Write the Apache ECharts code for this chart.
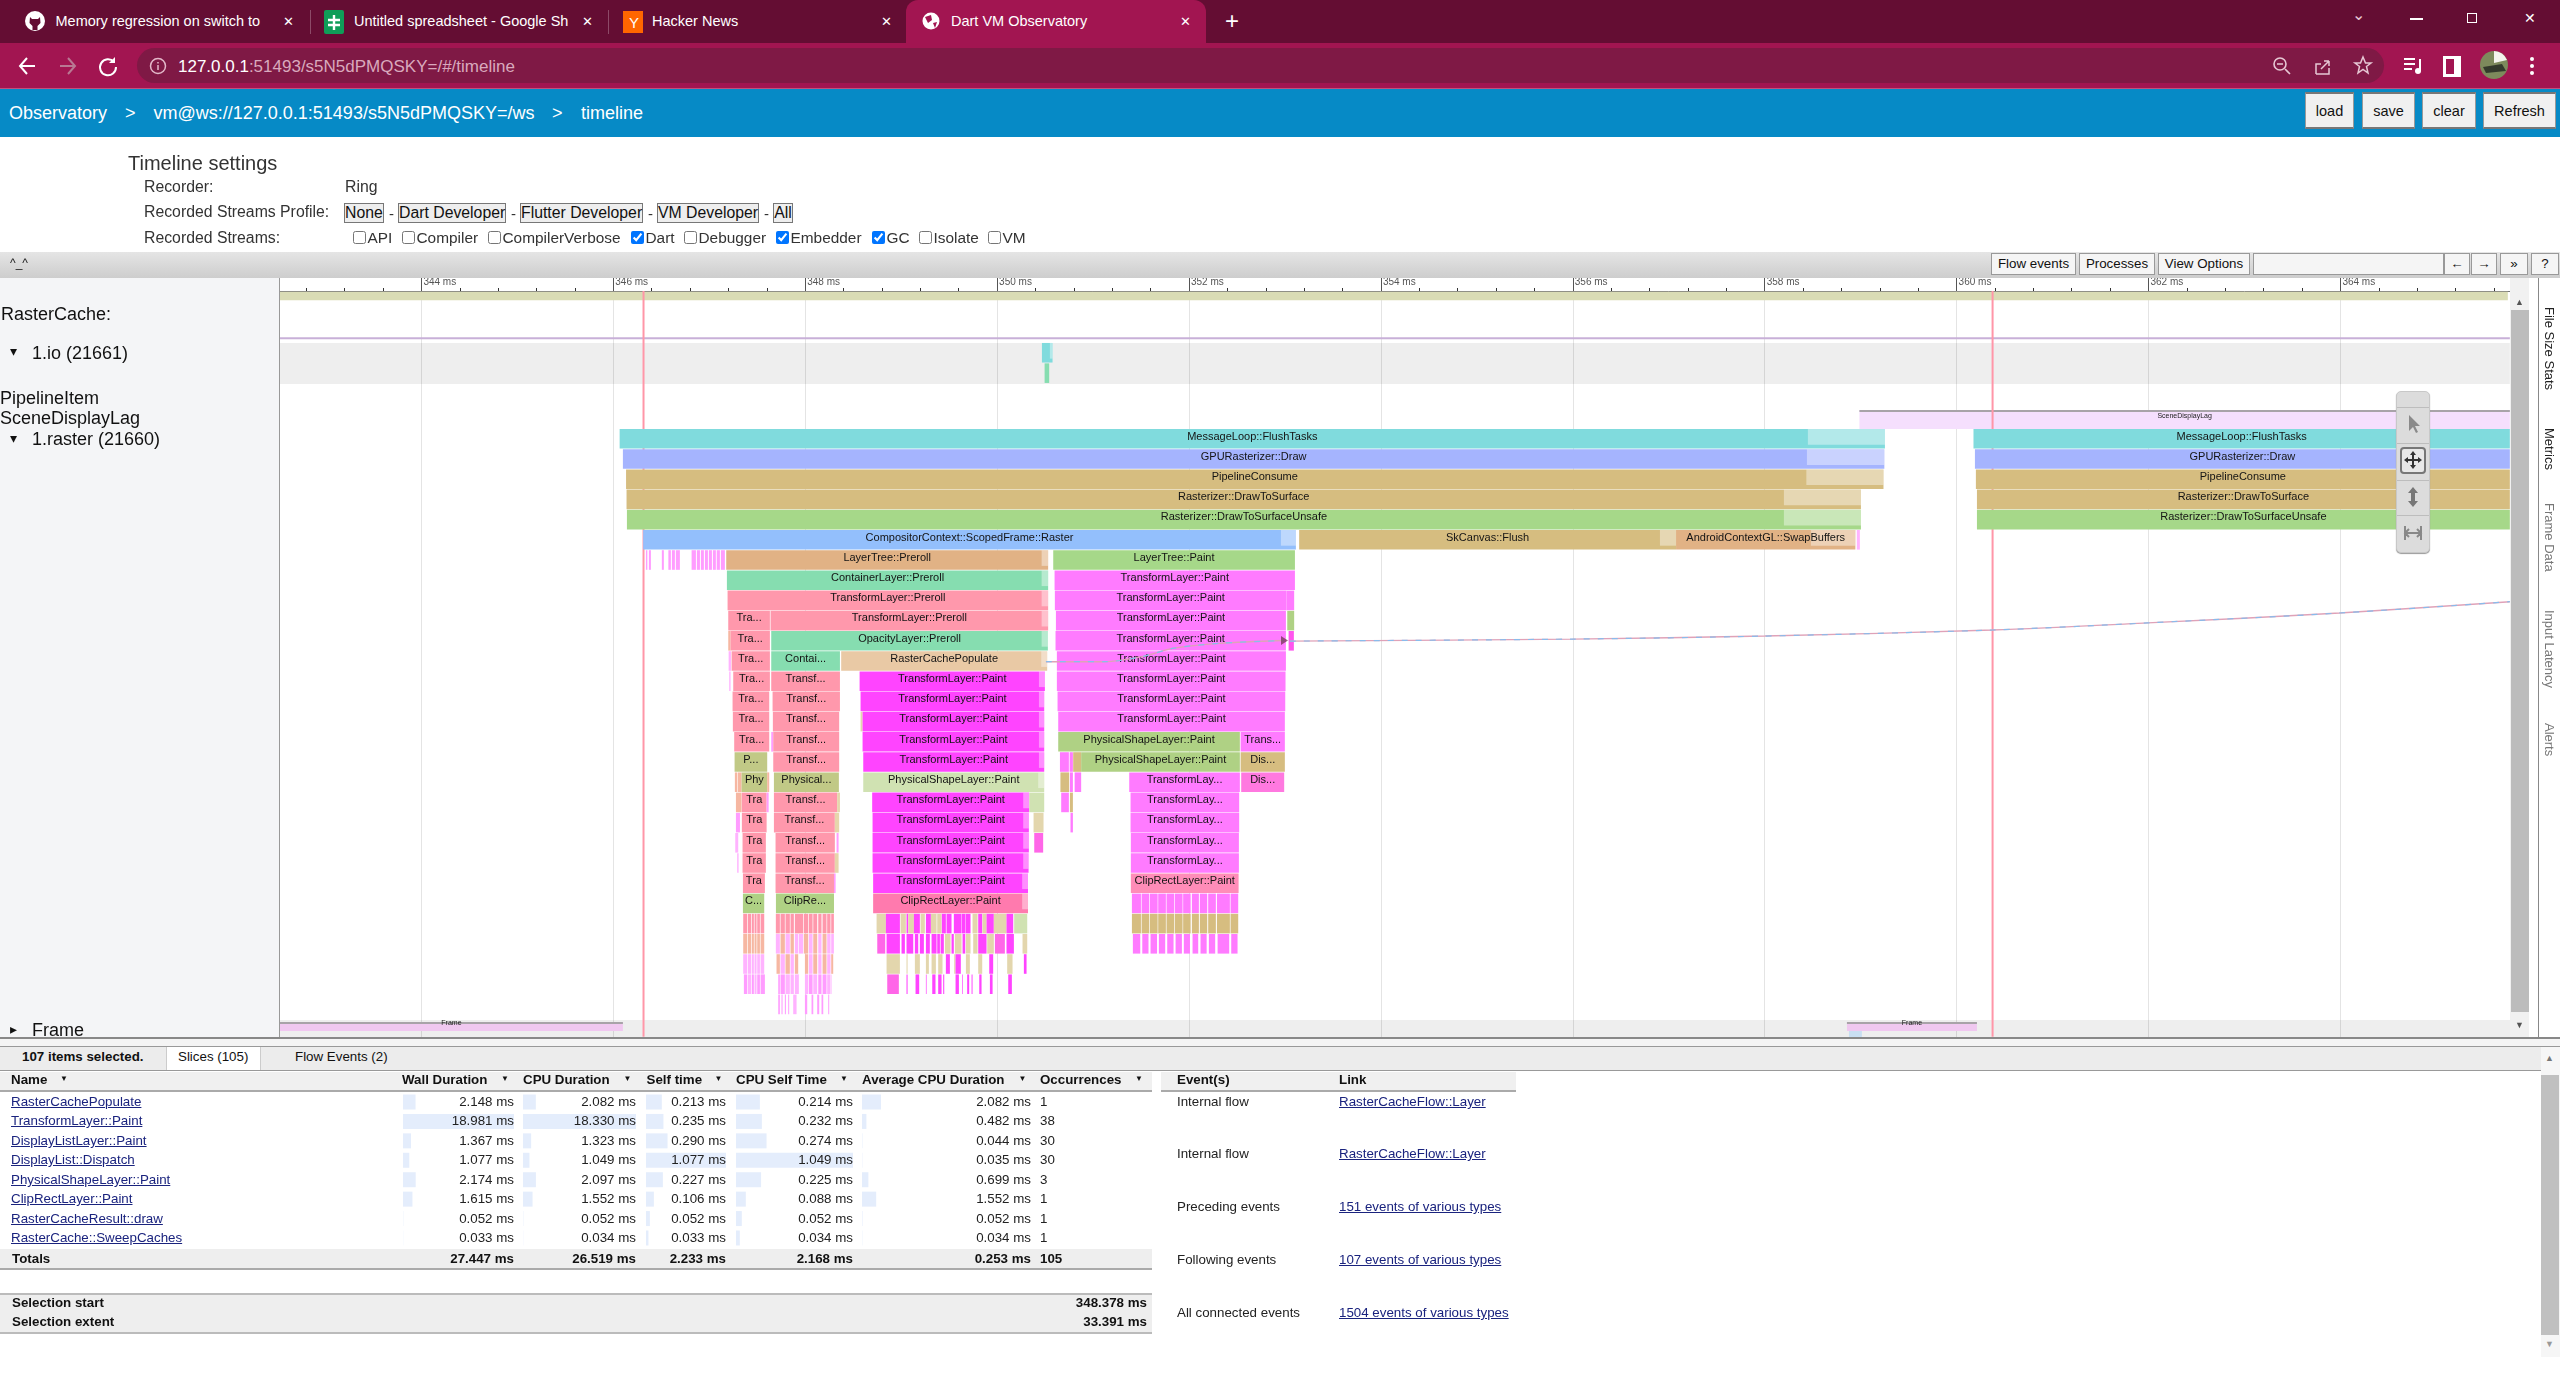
<!DOCTYPE html>
<html>
<head>
<meta charset="utf-8">
<title>Dart VM Observatory</title>
<script src="https://cdn.jsdelivr.net/npm/echarts@6/dist/echarts.min.js"></script>
<style>
  html, body { margin: 0; padding: 0; background: #fff; overflow: hidden; }
  body { width: 2560px; height: 1390px; position: relative; font-family: "Liberation Sans", Arial, sans-serif; }
  #chart { position: absolute; left: 0; top: 0; width: 2560px; height: 1390px; z-index: 1; }
  #page { position: absolute; left: 0; top: 0; width: 2560px; height: 1390px; z-index: 2; pointer-events: none; }
  .b { position: absolute; box-sizing: border-box; }
  .t { position: absolute; white-space: nowrap; line-height: 1; transform: translateY(-50%); font-size: 13.33px; color: #111; }
  svg { position: absolute; overflow: visible; }
</style>
</head>
<body>
<div id="chart"></div>
<div id="page"></div>
<script>
// slice names
const FLUSH = 'MessageLoop::FlushTasks', DRAW = 'GPURasterizer::Draw', PIPE = 'PipelineConsume',
  SURF = 'Rasterizer::DrawToSurface', UNSAFE = 'Rasterizer::DrawToSurfaceUnsafe',
  SCOPED = 'CompositorContext::ScopedFrame::Raster', SKFLUSH = 'SkCanvas::Flush',
  SWAP = 'AndroidContextGL::SwapBuffers', TREE_PRE = 'LayerTree::Preroll', TREE_PAINT = 'LayerTree::Paint',
  CONT_PRE = 'ContainerLayer::Preroll', TR = 'TransformLayer::Preroll', TP = 'TransformLayer::Paint',
  OP_PRE = 'OpacityLayer::Preroll', RCP = 'RasterCachePopulate', PS = 'PhysicalShapeLayer::Paint',
  PS_PRE = 'PhysicalShapeLayer::Preroll', CR_PRE = 'ClipRectLayer::Preroll', CR = 'ClipRectLayer::Paint',
  DLP = 'DisplayListLayer::Paint', DLD = 'DisplayList::Dispatch', DLR = 'DisplayListLayer::Raster',
  DLPRE = 'DisplayListLayer::Preroll', SLIVER = 'RasterCache::SweepCaches', ORANGE = 'DisplayList::Bounds',
  PALE = 'DisplayList::Rtree', DEEP = 'RasterCacheResult::draw';

const normalColors = {
  [FLUSH]: '#80dbdd', [DRAW]: '#a5b4fe', [PIPE]: '#d6bd80', [SURF]: '#d6bd80', [UNSAFE]: '#a6d889',
  [SCOPED]: '#93bffc', [SKFLUSH]: '#d6bd80', [SWAP]: '#e1b285', [TREE_PRE]: '#e1b285', [TREE_PAINT]: '#a6d889',
  [CONT_PRE]: '#86ddb0', [TR]: '#ff98ac', [TP]: '#ff7bff', [OP_PRE]: '#86ddb0', [RCP]: '#e9c9a5',
  [PS]: '#afd184', [PS_PRE]: '#c1c986', [CR_PRE]: '#afd184', [CR]: '#ff8cb8', [DLP]: '#ff7bff',
  [DLD]: '#d6bd80', [DLR]: '#ff79e0', [DLPRE]: '#e6d6ac', [SLIVER]: '#ff9cff', [ORANGE]: '#f6b7a2',
  [PALE]: '#ffb3ff', [DEEP]: '#ff55ee'
};
const selectedColors = { [TP]: '#ff44ff', [DLP]: '#ff44ff', [DLD]: '#e3d6ad', [PS]: '#d0e2b2', [CR]: '#ff7aae', [DEEP]: '#ff66e8' };
const selectedSpan = [348.375, 350.53];

// every slice: [start ms, end ms, name, cpu end ms, text shown when the name does not fit]
const ioDepth0 = [[350.467, 350.578, FLUSH, 350.55]];
const ioDepth1 = [[350.495, 350.543, CONT_PRE]];
const depth0 = [[346.066, 359.253, FLUSH, 358.450], [360.176, 365.766, FLUSH]];
const depth1 = [[346.100, 359.247, DRAW, 358.440], [360.191, 365.766, DRAW]];
const depth2 = [[346.133, 359.238, PIPE, 358.434], [360.201, 365.766, PIPE]];
const depth3 = [[346.138, 359.003, SURF, 358.200], [360.212, 365.766, SURF]];
const depth4 = [[346.142, 359.003, UNSAFE, 358.200], [360.212, 365.766, UNSAFE]];
const depth5 = [[346.311, 353.114, SCOPED, 352.958], [353.148, 357.076, SKFLUSH, 356.908], [357.076, 358.945, SWAP, 358.481], [358.960, 358.992, PALE]];
const depth6 = [[346.340, 346.355, SLIVER], [346.371, 346.392, SLIVER], [346.506, 346.527, SLIVER], [346.574, 346.600, SLIVER],
  [346.611, 346.642, SLIVER], [346.652, 346.694, SLIVER], [346.816, 346.861, SLIVER], [346.871, 346.903, SLIVER],
  [346.913, 346.944, SLIVER], [346.955, 346.986, SLIVER], [346.996, 347.028, SLIVER], [347.038, 347.069, SLIVER],
  [347.078, 347.111, SLIVER], [347.121, 347.163, SLIVER],
  [347.177, 350.532, TREE_PRE, 350.464], [350.585, 353.104, TREE_PAINT]];
const depth7 = [[347.184, 350.532, CONT_PRE, 350.464], [350.599, 353.104, TP]];
const depth8 = [[347.191, 350.532, TR, 350.464], [350.602, 353.017, TP], [353.017, 353.096, TP]];
const depth9 = [[347.198, 347.632, TR, null, 'Tra...'], [347.639, 350.532, TR, 350.464], [350.613, 353.010, TP], [353.024, 353.096, CR_PRE]];
const depth10 = [[347.198, 347.222, ORANGE], [347.222, 347.632, TR, null, 'Tra...'], [347.646, 350.529, OP_PRE, 350.464], [350.609, 353.010, TP], [353.038, 353.093, DEEP]];
const depth11 = [[347.202, 347.226, PALE], [347.233, 347.632, TR, null, 'Tra...'], [347.646, 348.362, CONT_PRE, null, 'Contai...'],
  [348.375, 350.522, RCP, 350.460], [350.623, 353.010, TP]];
const depth12 = [[347.208, 347.222, PALE], [347.250, 347.632, TR, null, 'Tra...'], [347.646, 348.362, TR, null, 'Transf...'],
  [348.567, 350.498, TP, 350.436], [350.623, 353.006, TP]];
const depth13 = [[347.243, 347.625, TR, null, 'Tra...'], [347.660, 348.362, TR, null, 'Transf...'], [348.577, 350.491, TP, 350.436], [350.630, 353.003, TP]];
const depth14 = [[347.246, 347.625, TR, null, 'Tra...'], [347.663, 348.354, TR, null, 'Transf...'], [348.577, 348.598, DLD],
  [348.598, 350.491, TP, 350.436], [350.637, 352.999, TP]];
const depth15 = [[347.260, 347.625, TR, null, 'Tra...'], [347.646, 347.667, SLIVER], [347.667, 348.354, TR, null, 'Transf...'],
  [348.598, 350.491, TP, 350.436], [350.637, 352.530, PS], [352.538, 352.999, TP, null, 'Trans...']];
const depth16 = [[347.264, 347.604, PS_PRE, null, 'P...'], [347.667, 348.354, TR, null, 'Transf...'], [348.605, 350.491, TP, 350.436],
  [350.655, 350.748, TP], [350.756, 350.790, TP], [350.793, 350.876, DLD], [350.876, 352.530, PS], [352.538, 352.999, DLD, null, 'Dis...']];
const depth17 = [[347.267, 347.293, ORANGE], [347.299, 347.337, ORANGE], [347.337, 347.604, PS_PRE, null, 'Phy'], [347.604, 347.625, ORANGE],
  [347.674, 348.351, PS_PRE, null, 'Physical...'], [348.605, 350.491, PS, 350.428], [350.660, 350.751, DLD], [350.759, 350.790, TP],
  [350.808, 350.876, TP], [351.377, 352.530, TP, null, 'TransformLay...'], [352.544, 352.992, DLR, null, 'Dis...']];
const depth18 = [[347.278, 347.337, ORANGE], [347.340, 347.598, TR, null, 'Tra'], [347.598, 347.619, SLIVER], [347.674, 348.333, TR, null, 'Transf...'],
  [348.333, 348.362, DLPRE], [348.698, 350.335, TP, 350.272], [350.335, 350.491, PS], [350.668, 350.748, TP], [350.759, 350.790, DLD],
  [351.391, 352.523, TP, null, 'TransformLay...']];
const depth19 = [[347.278, 347.320, SLIVER], [347.340, 347.598, TR, null, 'Tra'], [347.674, 348.309, TR, null, 'Transf...'], [348.309, 348.354, DLPRE],
  [348.702, 350.331, TP, 350.272], [350.380, 350.484, DLD], [350.765, 350.790, TP], [351.391, 352.523, TP, null, 'TransformLay...']];
const depth20 = [[347.271, 347.302, PALE], [347.347, 347.590, TR, null, 'Tra'], [347.691, 348.309, TR, null, 'Transf...'], [348.327, 348.348, SLIVER],
  [348.702, 350.331, TP, 350.272], [350.387, 350.480, DEEP], [351.394, 352.520, TP, null, 'TransformLay...']];
const depth21 = [[347.291, 347.306, PALE], [347.347, 347.590, TR, null, 'Tra'], [347.691, 348.309, TR, null, 'Transf...'], [348.309, 348.348, DLPRE],
  [348.702, 350.328, TP, 350.272], [351.394, 352.520, TP, null, 'TransformLay...']];
const depth22 = [[347.351, 347.580, TR, null, 'Tra'], [347.691, 348.300, TR, null, 'Transf...'], [348.300, 348.317, SLIVER],
  [348.708, 350.322, TP, 350.261], [351.394, 352.517, CR]];
const depth23 = [[347.351, 347.573, CR_PRE, null, 'C...'], [347.695, 348.300, CR_PRE, null, 'ClipRe...'], [348.708, 350.322, CR, 350.261],
  [351.405, 351.499, DLP], [351.506, 351.585, DLP], [351.592, 351.673, DLP], [351.679, 351.759, DLP], [351.766, 351.846, DLP], [351.853, 351.933, DLP],
  [351.939, 352.017, DLP], [352.030, 352.103, DLP], [352.113, 352.190, DLP], [352.200, 352.280, DLP], [352.291, 352.426, DLP], [352.433, 352.513, DLP]];
const depth24 = [[347.354, 347.396, TR], [347.403, 347.437, TR], [347.444, 347.465, TR], [347.472, 347.493, TR], [347.500, 347.528, TR], [347.535, 347.573, TR],
  [347.694, 347.736, TR], [347.743, 347.788, TR], [347.795, 347.840, TR], [347.847, 347.882, TR], [347.892, 347.979, TR], [347.986, 348.031, TR],
  [348.038, 348.077, TR], [348.084, 348.125, TR], [348.136, 348.170, TR], [348.181, 348.222, TR], [348.229, 348.264, TR], [348.271, 348.299, TR],
  [348.744, 348.841, DLD], [348.841, 348.987, TP], [348.994, 349.049, DLD], [349.056, 349.074, TP], [349.074, 349.133, DLD], [349.133, 349.195, TP],
  [349.202, 349.247, DLD], [349.258, 349.310, TP], [349.310, 349.369, DLD], [349.376, 349.421, DLD], [349.424, 349.466, TP], [349.473, 349.525, TP],
  [349.549, 349.629, TP], [349.633, 349.671, TP], [349.675, 349.723, TP], [349.744, 349.796, DLD], [349.803, 349.845, TP], [349.848, 349.890, DLD],
  [349.890, 349.966, TP], [349.966, 350.098, DLD], [350.098, 350.168, TP], [350.178, 350.314, PS],
  [351.405, 351.499, DLD], [351.506, 351.585, DLD], [351.592, 351.673, DLD], [351.679, 351.759, DLD], [351.766, 351.846, DLD], [351.853, 351.933, DLD],
  [351.939, 352.017, DLD], [352.030, 352.103, DLD], [352.113, 352.190, DLD], [352.200, 352.280, DLD], [352.291, 352.426, DLD], [352.433, 352.513, DLD]];
const depth25 = [[347.354, 347.396, ORANGE], [347.403, 347.437, ORANGE], [347.444, 347.465, ORANGE], [347.472, 347.493, ORANGE], [347.500, 347.528, ORANGE], [347.535, 347.573, ORANGE],
  [347.694, 347.736, PALE], [347.743, 347.788, ORANGE], [347.795, 347.840, PALE], [347.847, 347.882, ORANGE], [347.892, 347.927, PALE], [347.934, 347.979, PALE],
  [347.986, 348.031, ORANGE], [348.038, 348.077, PALE], [348.084, 348.125, ORANGE], [348.136, 348.170, PALE], [348.181, 348.222, ORANGE], [348.229, 348.264, PALE], [348.271, 348.299, PALE],
  [348.751, 348.834, DEEP], [348.848, 348.987, TP], [349.004, 349.039, TP], [349.056, 349.126, TP], [349.143, 349.178, TP], [349.195, 349.237, TP],
  [349.258, 349.299, TP], [349.317, 349.369, TP], [349.376, 349.404, TP], [349.411, 349.445, TP], [349.456, 349.515, DLD], [349.525, 349.549, TP],
  [349.560, 349.629, DLD], [349.640, 349.668, TP], [349.675, 349.723, DLD], [349.751, 349.796, DLD], [349.803, 349.890, TP], [349.897, 349.966, DLD],
  [349.977, 350.081, DEEP], [350.098, 350.175, TP], [350.265, 350.314, DLD],
  [351.415, 351.492, TP], [351.513, 351.578, TP], [351.599, 351.667, TP], [351.686, 351.752, TP], [351.773, 351.839, TP], [351.860, 351.926, TP],
  [351.946, 352.010, TP], [352.037, 352.096, TP], [352.120, 352.184, TP], [352.207, 352.273, TP], [352.298, 352.419, TP], [352.440, 352.506, TP]];
const depth26 = [[347.354, 347.396, PALE], [347.403, 347.437, PALE], [347.444, 347.465, PALE], [347.472, 347.493, PALE], [347.500, 347.528, PALE], [347.535, 347.573, PALE],
  [347.701, 347.736, ORANGE], [347.743, 347.788, PALE], [347.795, 347.840, ORANGE], [347.847, 347.882, PALE], [347.892, 347.927, ORANGE],
  [347.997, 348.031, ORANGE], [348.038, 348.077, PALE], [348.084, 348.125, ORANGE], [348.136, 348.170, PALE], [348.181, 348.222, ORANGE], [348.229, 348.264, PALE], [348.271, 348.292, ORANGE],
  [348.848, 348.987, DLD], [349.056, 349.067, DLD], [349.143, 349.195, DLD], [349.258, 349.289, DLD], [349.317, 349.362, DLD], [349.386, 349.431, DLD],
  [349.466, 349.508, TP], [349.553, 349.567, DLD], [349.567, 349.622, TP], [349.675, 349.716, DLD], [349.803, 349.845, DLD], [349.918, 349.959, TP],
  [350.105, 350.161, DLD], [350.279, 350.307, TP]];
const depth27 = [[347.361, 347.396, SLIVER], [347.403, 347.437, PALE], [347.444, 347.465, SLIVER], [347.472, 347.493, PALE], [347.500, 347.528, SLIVER], [347.535, 347.580, SLIVER],
  [347.719, 347.736, SLIVER], [347.743, 347.788, SLIVER], [347.795, 347.840, PALE], [347.847, 347.882, PALE], [347.892, 347.934, PALE],
  [347.997, 348.031, PALE], [348.038, 348.077, SLIVER], [348.084, 348.125, PALE], [348.136, 348.170, SLIVER], [348.181, 348.222, SLIVER], [348.229, 348.264, PALE], [348.271, 348.275, SLIVER],
  [348.855, 348.976, DEEP], [349.056, 349.067, TP], [349.150, 349.188, TP], [349.258, 349.265, TP], [349.324, 349.358, TP], [349.386, 349.421, TP],
  [349.438, 349.449, TP], [349.567, 349.602, TP], [349.636, 349.643, TP], [349.688, 349.709, TP], [349.734, 349.744, TP], [349.814, 349.838, TP],
  [349.925, 349.953, TP], [350.116, 350.154, TP]];
const depth28 = [[347.719, 347.736, SLIVER], [347.753, 347.764, SLIVER], [347.788, 347.799, SLIVER], [347.823, 347.833, SLIVER], [347.875, 347.910, PALE],
  [347.997, 348.021, SLIVER], [348.066, 348.084, SLIVER], [348.125, 348.146, SLIVER], [348.170, 348.188, SLIVER], [348.240, 348.250, SLIVER]];

const flameRows = [depth0, depth1, depth2, depth3, depth4, depth5, depth6, depth7, depth8, depth9, depth10, depth11, depth12, depth13, depth14,
  depth15, depth16, depth17, depth18, depth19, depth20, depth21, depth22, depth23, depth24, depth25, depth26, depth27, depth28];

// track furniture in [start ms, end ms, top row, bottom row, kind, name]
const trackBands = [
  [342, 365.745, -6.80, -6.37, 'ruler'],
  [342, 365.766, -4.54, -4.44, 'counter'],
  [342, 365.766, -4.26, -2.23, 'shade'],
  [342, 366, 29.26, 30.10, 'shade'],
  [358.987, 365.766, -0.94, 0, 'async', 'SceneDisplayLag'],
  [342.526, 346.10, 29.356, 29.80, 'frame', 'Frame'],
  [358.857, 360.212, 29.356, 29.80, 'frame', 'Frame'],
  [358.878, 359.013, 29.80, 30.10, 'frameGpu']
];
const bandColors = { ruler: '#dadcb5', counter: '#c8b0d8', shade: 'rgba(0,0,0,0.065)', async: '#f5dffd', frame: '#f0c8f0', frameGpu: '#c9dff2' };

const vsyncTimes = [346.315, 360.375];

// flow arrows, [ms, row]
const flowIn = [[350.509, 11.52], [351.124, 11.52], [351.509, 11.27], [351.843, 10.85], [352.322, 10.61], [352.989, 10.47]];
const flowOut = [[353.051, 10.50], [356.0, 10.40], [358.0, 10.25], [360.375, 9.95], [361.99, 9.60], [363.99, 9.11], [365.766, 8.55]];
const flowHead = [[352.995, 10.47]];

// analysis table
const tableNames = ['RasterCachePopulate', 'TransformLayer::Paint', 'DisplayListLayer::Paint', 'DisplayList::Dispatch',
  'PhysicalShapeLayer::Paint', 'ClipRectLayer::Paint', 'RasterCacheResult::draw', 'RasterCache::SweepCaches'];
const wallDuration = [2.148, 18.981, 1.367, 1.077, 2.174, 1.615, 0.052, 0.033];
const cpuDuration = [2.082, 18.330, 1.323, 1.049, 2.097, 1.552, 0.052, 0.034];
const selfTime = [0.213, 0.235, 0.290, 1.077, 0.227, 0.106, 0.052, 0.033];
const cpuSelfTime = [0.214, 0.232, 0.274, 1.049, 0.225, 0.088, 0.052, 0.034];
const avgCpuDuration = [2.082, 0.482, 0.044, 0.035, 0.699, 1.552, 0.052, 0.034];
const occurrences = [1, 38, 30, 30, 3, 1, 1, 1];
const tableTotals = [27.447, 26.519, 2.233, 2.168, 0.253];
const totalOccurrences = 105;
const flowEventKinds = ['Internal flow', 'Internal flow', 'Preceding events', 'Following events', 'All connected events'];
const flowEventLinks = ['RasterCacheFlow::Layer', 'RasterCacheFlow::Layer', '151 events of various types', '107 events of various types', '1504 events of various types'];

const sliceTable = [];
flameRows.forEach((row, depth) => row.forEach(s => sliceTable.push({ start: s[0], end: s[1], depth, name: s[2], cpuEnd: s[3], label: s[4] })));
ioDepth0.forEach(s => sliceTable.push({ start: s[0], end: s[1], depth: -4.26, name: s[2], cpuEnd: s[3] }));
ioDepth1.forEach(s => sliceTable.push({ start: s[0], end: s[1], depth: -3.25, name: s[2] }));

const measureCtx = document.createElement('canvas').getContext('2d');
const sliceFont = '11px "Liberation Sans"';
measureCtx.font = sliceFont;

function sliceColor(s) {
  const selected = s.depth >= 12 && s.start >= selectedSpan[0] && s.end <= selectedSpan[1];
  return (selected && selectedColors[s.name]) || normalColors[s.name];
}

function renderSlice(params, api) {
  const s = sliceTable[params.dataIndex];
  const a = api.coord([s.start, s.depth]);
  const b = api.coord([s.end, s.depth + 1]);
  const w = b[0] - a[0], h = b[1] - a[1];
  const children = [{ type: 'rect', shape: { x: a[0], y: a[1], width: w, height: h - 0.6 }, style: { fill: sliceColor(s) } }];
  if (s.cpuEnd) {
    const c = api.coord([s.cpuEnd, s.depth]);
    children.push({ type: 'rect', shape: { x: c[0], y: a[1], width: b[0] - c[0], height: (h - 0.6) * 0.8 }, style: { fill: 'rgba(255,255,255,0.4)' } });
  }
  const text = s.label || (measureCtx.measureText(s.name).width + 2 < w ? s.name : '');
  if (text) {
    // the labels sit a little above the middle of the row
    children.push({ type: 'text', style: { text, x: a[0] + w / 2, y: a[1] + h / 2 - 2.5, align: 'center', verticalAlign: 'middle', font: sliceFont, fill: '#141414' } });
  }
  return { type: 'group', children };
}

function renderBand(params, api) {
  const d = trackBands[params.dataIndex];
  const a = api.coord([d[0], d[2]]);
  const b = api.coord([d[1], d[3]]);
  const children = [{ type: 'rect', shape: { x: a[0], y: a[1], width: b[0] - a[0], height: b[1] - a[1] }, style: { fill: bandColors[d[4]] } }];
  if (d[5]) {
    children.push({ type: 'rect', shape: { x: a[0], y: a[1], width: b[0] - a[0], height: 2 }, style: { fill: '#a8a3a8' } });
    children.push({ type: 'text', style: { text: d[5], x: (a[0] + b[0]) / 2, y: (a[1] + b[1]) / 2 - 3, align: 'center', verticalAlign: 'middle', font: '7px "Liberation Sans"', fill: '#222' } });
  }
  return { type: 'group', children };
}

function renderVsync(params, api) {
  const a = api.coord([vsyncTimes[params.dataIndex], -6.83]);
  const b = api.coord([vsyncTimes[params.dataIndex], 30.09]);
  return { type: 'rect', shape: { x: a[0] - 1, y: a[1], width: 2, height: b[1] - a[1] }, style: { fill: '#ff96a8' } };
}

// one small bar column per duration column of the table
const barColumns = [
  { values: wallDuration, left: 403, width: 111, max: 18.981 },
  { values: cpuDuration, left: 523, width: 113, max: 18.330 },
  { values: selfTime, left: 646, width: 80, max: 1.077 },
  { values: cpuSelfTime, left: 736, width: 117, max: 1.049 },
  { values: avgCpuDuration, left: 862, width: 169, max: 18.5 }
];

const option = {
  animation: false,
  backgroundColor: 'transparent',
  grid: [{ left: 229.5, top: 291, width: 2302.8, height: 746, containLabel: false }]
    .concat(barColumns.map(c => ({ left: c.left, top: 1092.3, width: c.width, height: 155.4 }))),
  xAxis: [{
    type: 'value', position: 'top', min: 342, max: 366, interval: 2, gridIndex: 0,
    axisLine: { show: true, onZero: false, lineStyle: { color: '#777', width: 1 } },
    axisTick: { show: true, length: 13, lineStyle: { color: '#555' } },
    minorTick: { show: true, splitNumber: 5, length: 3, lineStyle: { color: '#333' } },
    splitLine: { show: true, lineStyle: { color: '#e4e4e4', width: 1 } },
    axisLabel: {
      show: true, align: 'left', margin: 4, padding: [0, 0, 0, 2], fontSize: 10, color: '#555',
      fontFamily: 'Liberation Sans', showMinLabel: false, showMaxLabel: false,
      formatter: v => v + ' ms'
    }
  }].concat(barColumns.map((c, i) => ({ type: 'value', gridIndex: i + 1, min: 0, max: c.max, show: false }))),
  yAxis: [{ type: 'value', inverse: true, min: -6.832, max: 30.099, gridIndex: 0, show: false }]
    .concat(barColumns.map((c, i) => ({ type: 'category', gridIndex: i + 1, data: tableNames, inverse: true, show: false }))),
  series: [
    { type: 'custom', name: 'tracks', z: 1, silent: true, renderItem: renderBand, clip: true,
      data: trackBands.map(d => [d[0], d[1], d[2], d[3]]), encode: { x: [0, 1], y: [2, 3] } },
    { type: 'custom', name: 'vsync', z: 2, silent: true, renderItem: renderVsync, clip: true,
      data: vsyncTimes.map(t => [t]), encode: { x: 0 } },
    { type: 'custom', name: 'slices', z: 3, silent: true, renderItem: renderSlice, clip: true,
      data: sliceTable.map(s => [s.start, s.end, s.depth]), encode: { x: [0, 1], y: 2 } },
    { type: 'line', name: 'flow in', z: 5, silent: true, data: flowIn, smooth: 0.3, symbol: 'none', lineStyle: { color: '#dfa2b8', width: 1.4 } },
    { type: 'line', name: 'flow in blue', z: 5, silent: true, data: flowIn, smooth: 0.3, symbol: 'none', lineStyle: { color: '#88bcec', width: 1.2, type: [6, 8] } },
    { type: 'line', name: 'flow out', z: 5, silent: true, data: flowOut, smooth: 0.3, symbol: 'none', lineStyle: { color: '#dfa2b8', width: 1.4 } },
    { type: 'line', name: 'flow out blue', z: 5, silent: true, data: flowOut, smooth: 0.3, symbol: 'none', lineStyle: { color: '#88bcec', width: 1.2, type: [6, 8] } },
    { type: 'scatter', name: 'flow head', z: 6, silent: true, data: flowHead, symbol: 'triangle', symbolSize: [9, 7], symbolRotate: -90, itemStyle: { color: '#7d3a5e' } }
  ].concat(barColumns.map((c, i) => ({
    type: 'bar', name: 'column ' + i, xAxisIndex: i + 1, yAxisIndex: i + 1, data: c.values, barWidth: 15, silent: true,
    itemStyle: { color: '#e4edfc' }
  })))
};

echarts.init(document.getElementById('chart')).setOption(option);

// page around the chart, all plain text
const page = document.getElementById('page');
function rect(x, y, w, h, css) {
  const el = document.createElement('div');
  el.className = 'b';
  el.style.cssText = 'left:' + x + 'px;top:' + y + 'px;width:' + w + 'px;height:' + h + 'px;' + (css || '');
  page.appendChild(el);
  return el;
}
function text(str, x, y, css) {
  const el = document.createElement('div');
  el.className = 't';
  el.textContent = str;
  el.style.cssText = 'left:' + x + 'px;top:' + y + 'px;' + (css || '');
  page.appendChild(el);
  return el;
}
function rtext(str, right, y, css) {
  const el = text(str, 0, y, css);
  el.style.left = 'auto';
  el.style.right = (2560 - right) + 'px';
  return el;
}
function button(str, x, y, w, h, css) {
  const el = rect(x, y, w, h, 'background:#f0f0f0;text-align:center;color:#111;white-space:nowrap;line-height:' + (h - 2) + 'px;' + (css || ''));
  el.textContent = str;
  return el;
}
function svg(x, y, w, h, inner) {
  const holder = document.createElement('div');
  holder.innerHTML = '<svg style="left:' + x + 'px;top:' + y + 'px" width="' + w + '" height="' + h + '" viewBox="0 0 ' + w + ' ' + h + '">' + inner + '</svg>';
  page.appendChild(holder.firstChild);
}

// browser frame
rect(0, 0, 2560, 43, 'background:#640d33');
rect(906, 0, 300, 43, 'background:#a21551;border-radius:12px 12px 0 0');
rect(0, 43, 2560, 45, 'background:#a21551');
rect(137, 48, 2247, 35, 'background:#7f1945;border-radius:18px');
rect(0, 88, 2560, 1, 'background:#c0527c');
const tabs = [['Memory regression on switch to', 55.5, 214, 289], ['Untitled spreadsheet - Google Sh', 354, 220, 588], ['Hacker News', 652, 200, 887], ['Dart VM Observatory', 951, 200, 1186]];
tabs.forEach(t => {
  text(t[0], t[1], 21, 'color:#fff;font-size:14.5px;overflow:hidden;line-height:20px;width:' + t[2] + 'px');
  text('✕', t[3] - 6, 21, 'color:#fff;font-size:13px');
});
rect(310, 10, 1, 24, 'background:#8d4a68');
rect(608, 10, 1, 24, 'background:#8d4a68');
svg(24, 10, 22, 22, '<circle cx="11" cy="11" r="10" fill="#fff"/><path d="M6 7 L8 9 L14 9 L16 7 L16.5 13 L13.5 16 L13.5 20 L8.5 20 L8.5 16 L5.5 13 Z" fill="#640d33"/>');
svg(324, 10, 20, 24, '<rect width="20" height="24" rx="2" fill="#0f9d58"/><path d="M4 10H16M4 15H16M10 5V20" stroke="#fff" stroke-width="2.4"/>');
svg(623, 11, 20, 22, '<rect width="20" height="22" fill="#ff6600"/>');
text('Y', 629, 22, 'color:#fff;font-size:15px');
svg(922, 11, 18, 20, '<circle cx="9" cy="10" r="8.5" fill="#fff"/><path d="M3 6 L9 4 L10 9 L6 12 Z M11 12 L15 11 L13 17 Z" fill="#a21551"/>');
text('+', 1225, 21, 'color:#fff;font-size:24px');
text('⌄', 2352, 15, 'color:#e6c7d4;font-size:16px');
rect(2410, 18, 13, 1.5, 'background:#fff');
rect(2467, 13, 10, 10, 'border:1.5px solid #fff');
text('✕', 2524, 18, 'color:#fff;font-size:14px');
svg(18, 56, 18, 20, '<path d="M9 2L2 10L9 18M2 10H17" fill="none" stroke="#fff" stroke-width="2"/>');
svg(59, 56, 18, 20, '<path d="M9 2L16 10L9 18M16 10H1" fill="none" stroke="#b97893" stroke-width="2"/>');
svg(98, 56, 20, 20, '<path d="M16 6A8 8 0 1 0 18 11" fill="none" stroke="#fff" stroke-width="2"/><path d="M17 1V7H11Z" fill="#fff"/>');
svg(149, 57, 18, 18, '<circle cx="9" cy="9" r="7.5" fill="none" stroke="#e3b8c9" stroke-width="1.5"/><path d="M9 8V13M9 5V6.5" stroke="#e3b8c9" stroke-width="1.5"/>');
text('127.0.0.1', 178, 66, 'color:#fff;font-size:17px');
text(':51493/s5N5dPMQSKY=/#/timeline', 178 + 70.9, 66, 'color:#d9a9bd;font-size:17px');
svg(2272, 56, 20, 20, '<circle cx="8" cy="8" r="6" fill="none" stroke="#e6c7d4" stroke-width="1.6"/><path d="M13 13L18 18M5 8H11" stroke="#e6c7d4" stroke-width="1.6"/>');
svg(2313, 56, 20, 20, '<path d="M3 18V8H8M3 18H16V12M8 13L16 5M16 5H11M16 5V10" fill="none" stroke="#e6c7d4" stroke-width="1.5"/>');
svg(2353, 55, 20, 20, '<path d="M10 2L12.5 8H18L13.5 11.5L15 18L10 14.5L5 18L6.5 11.5L2 8H7.5Z" fill="none" stroke="#e6c7d4" stroke-width="1.5"/>');
svg(2403, 56, 22, 20, '<path d="M1 3H12M1 8H12M1 13H9" stroke="#fff" stroke-width="2"/><path d="M17 3V15" stroke="#fff" stroke-width="2"/><circle cx="15" cy="15" r="3" fill="#fff"/>');
rect(2443, 56, 18, 21, 'border:3px solid #fff;border-right-width:7px');
svg(2480, 51, 28, 28, '<circle cx="14" cy="14" r="14" fill="#7d8a5c"/><path d="M14 0A14 14 0 0 1 27 9L14 12Z" fill="#f4f4ee"/><path d="M3 16L22 13L26 20L6 22Z" fill="#333a2c"/>');
svg(2530, 56, 4, 20, '<circle cx="2" cy="3" r="2" fill="#fff"/><circle cx="2" cy="10" r="2" fill="#fff"/><circle cx="2" cy="17" r="2" fill="#fff"/>');

// observatory header
rect(0, 89, 2560, 48, 'background:#068ac6');
text('Observatory', 9, 113, 'color:#fff;font-size:18px');
text('>', 125, 113, 'color:#fff;font-size:18px');
text('vm@ws://127.0.0.1:51493/s5N5dPMQSKY=/ws', 153.5, 113, 'color:#fff;font-size:18px');
text('>', 552, 113, 'color:#fff;font-size:18px');
text('timeline', 581, 113, 'color:#fff;font-size:18px');
[['load', 2305, 49], ['save', 2362, 53], ['clear', 2422, 54], ['Refresh', 2483, 73]].forEach(b => {
  button(b[0], b[1], 92, b[2], 37, 'font-size:14.5px;border:1px solid #999;border-top:2px solid #777;border-bottom:2px solid #777');
});

// timeline settings
text('Timeline settings', 128, 163, 'font-size:20px;color:#333;line-height:24px');
text('Recorder:', 144, 187, 'font-size:15.8px;color:#333;line-height:20px');
text('Ring', 345, 187, 'font-size:15.8px;color:#333;line-height:20px');
text('Recorded Streams Profile:', 144, 212, 'font-size:15.8px;color:#333;line-height:20px');
[['None', 344, 40], ['Dart Developer', 398, 108], ['Flutter Developer', 520, 123], ['VM Developer', 657, 102], ['All', 773, 20]].forEach((b, i) => {
  button(b[0], b[1], 203, b[2], 20, 'font-size:15.8px;border:1px solid #777;background:#eee');
  if (i < 4) text('-', b[1] + b[2] + 5, 213, 'font-size:15px;color:#333');
});
text('Recorded Streams:', 144, 238, 'font-size:15.8px;color:#333;line-height:20px');
const streamNames = ['API', 'Compiler', 'CompilerVerbose', 'Dart', 'Debugger', 'Embedder', 'GC', 'Isolate', 'VM'];
const streamBoxes = [353, 402, 488, 631, 684, 776, 872, 919, 988];
const streamChecked = [false, false, false, true, false, true, true, false, false];
streamNames.forEach((n, i) => {
  const box = document.createElement('input');
  box.type = 'checkbox';
  box.checked = streamChecked[i];
  box.style.cssText = 'position:absolute;margin:0;width:13px;height:13px;left:' + streamBoxes[i] + 'px;top:231px';
  page.appendChild(box);
  text(n, streamBoxes[i] + 14.5, 238, 'font-size:15.4px;color:#333;line-height:20px');
});

// timeline toolbar
rect(0, 252, 2560, 26, 'background:linear-gradient(#e5e5e5,#cdcdcd)');
text('^_^', 10, 263, 'font-size:12px;color:#222');
[['Flow events', 1991, 85], ['Processes', 2079, 76], ['View Options', 2158, 92], ['', 2253, 191], ['←', 2444, 26], ['→', 2471, 26], ['»', 2500, 28], ['?', 2531, 28]].forEach(b => {
  button(b[0], b[1], 253, b[2], 22, 'font-size:13.33px;border:1px solid #999;background:#f5f5f5');
});

// track names
rect(0, 278, 280, 759, 'background:#f4f5f7;border-right:1px solid #999');
text('RasterCache:', 1, 314, 'font-size:18px;line-height:22px');
text('▾', 10, 351, 'font-size:14px');
text('1.io (21661)', 32, 352.7, 'font-size:18px;line-height:22px');
text('PipelineItem', 0, 397.7, 'font-size:18px;line-height:22px');
text('SceneDisplayLag', 0, 417.7, 'font-size:18px;line-height:22px');
text('▾', 10, 438, 'font-size:14px');
text('1.raster (21660)', 32, 439, 'font-size:18px;line-height:22px');
text('▸', 10, 1029, 'font-size:14px');
text('Frame', 32, 1030, 'font-size:18px;line-height:22px');

// side strip and scrollbar
rect(2510, 278, 50, 760, 'background:#fff');
rect(2510, 278, 19, 760, 'background:#f1f1f1');
rect(2511, 310, 18, 702, 'background:#bcbcbc');
text('▲', 2515, 302, 'font-size:9px;color:#555');
text('▼', 2515, 1025, 'font-size:9px;color:#555');
rect(2538, 278, 1, 760, 'background:#888');
[['File Size Stats', 307, '#222'], ['Metrics', 428, '#222'], ['Frame Data', 503, '#777'], ['Input Latency', 610, '#777'], ['Alerts', 723, '#777']].forEach(s => {
  const el = rect(2541, s[1], 16, 100, 'writing-mode:vertical-rl;font-size:13px;line-height:16px;white-space:nowrap;color:' + s[2]);
  el.textContent = s[0];
});

// mouse mode palette
rect(2396, 391, 34, 162, 'background:#dcdcdc;border:1px solid #c8c8c8;border-radius:5px;box-shadow:0 1px 1px #999');
[407, 443, 480, 515].forEach(y => rect(2397, y, 32, 1, 'background:#bdbdbd'));
rect(2400, 447, 26, 27, 'background:#e8e8e8;border:2px solid #777;border-radius:4px');
svg(2406, 415, 14, 18, '<path d="M3 0V16L7 12L10 18L12 17L9 11H14Z" fill="#8a8a8a"/>');
svg(2404, 451, 18, 18, '<path d="M9 0L12 4H10V8H14V6L18 9L14 12V10H10V14H12L9 18L6 14H8V10H4V12L0 9L4 6V8H8V4H6Z" fill="#333"/>');
svg(2408, 487, 10, 20, '<path d="M5 0L10 6H7V14H10L5 20L0 14H3V6H0Z" fill="#777"/>');
svg(2404, 526, 18, 14, '<path d="M1 0V14M17 0V14M1 7H17M5 3L1 7L5 11M13 3L17 7L13 11" fill="none" stroke="#888" stroke-width="2"/>');

// analysis panel
rect(0, 1037, 2560, 2, 'background:#888');
rect(0, 1039, 2560, 7, 'background:#f4f4f4');
rect(0, 1046, 2560, 1, 'background:#999');
rect(0, 1047, 2541, 23, 'background:#ececec');
rect(0, 1070, 2541, 1, 'background:#999');
text('107 items selected.', 22, 1056.5, 'font-weight:bold;font-size:13.33px');
rect(166, 1047, 95, 23, 'background:#fff;border-left:1px solid #ccc;border-right:1px solid #ccc');
text('Slices (105)', 178, 1056.5, 'font-size:13.33px');
text('Flow Events (2)', 295, 1056.5, 'font-size:13.33px');

rect(0, 1072, 1152, 20, 'background:#f0f0f0;border-bottom:2px solid #aaa');
const headers = [['Name', 11, 63], ['Wall Duration', 402, 504], ['CPU Duration', 523, 626.5], ['Self time', 646.5, 717.5], ['CPU Self Time', 736, 843], ['Average CPU Duration', 862, 1021.5], ['Occurrences', 1040, 1138]];
headers.forEach(h => {
  text(h[0], h[1], 1080, 'font-weight:bold;font-size:13.33px');
  text('▼', h[2] - 3, 1079, 'font-size:8px');
});
const valueRights = [514, 636, 726, 853, 1031];
const rowCenters = [1102, 1121, 1141, 1160, 1180, 1199, 1219, 1238];
tableNames.forEach((name, i) => {
  text(name, 11, rowCenters[i], 'font-size:13.33px;color:#1a237e;text-decoration:underline;line-height:16px');
  barColumns.forEach((c, j) => rtext(c.values[i].toFixed(3) + ' ms', valueRights[j], rowCenters[i], 'font-size:13.33px;color:#222'));
  text(String(occurrences[i]), 1040, rowCenters[i], 'font-size:13.33px;color:#222');
});
rect(0, 1249, 1152, 21, 'background:#eee;border-bottom:2px solid #aaa');
text('Totals', 12, 1259, 'font-weight:bold');
tableTotals.forEach((v, j) => rtext(v.toFixed(3) + ' ms', valueRights[j], 1259, 'font-weight:bold'));
text(String(totalOccurrences), 1040, 1259, 'font-weight:bold');

rect(0, 1293, 1152, 41, 'background:#eee;border-top:2px solid #bbb;border-bottom:2px solid #bbb');
text('Selection start', 12, 1303, 'font-weight:bold');
text('Selection extent', 12, 1322, 'font-weight:bold');
rtext('348.378 ms', 1147, 1303, 'font-weight:bold');
rtext('33.391 ms', 1147, 1322, 'font-weight:bold');

rect(1161, 1072, 355, 20, 'background:#f0f0f0;border-bottom:2px solid #aaa');
text('Event(s)', 1177, 1080, 'font-weight:bold');
text('Link', 1339, 1080, 'font-weight:bold');
const flowRows = [1102, 1154, 1207, 1260, 1313];
flowEventKinds.forEach((k, i) => {
  text(k, 1177, flowRows[i], 'color:#222');
  text(flowEventLinks[i], 1339, flowRows[i], 'color:#1a237e;text-decoration:underline;line-height:16px');
});

rect(2541, 1047, 19, 310, 'background:#f6f6f6');
rect(2541, 1075, 18, 260, 'background:#c0c0c0');
text('▲', 2545, 1058, 'font-size:9px;color:#777');
text('▼', 2545, 1344, 'font-size:9px;color:#999');
</script>
</body>
</html>
